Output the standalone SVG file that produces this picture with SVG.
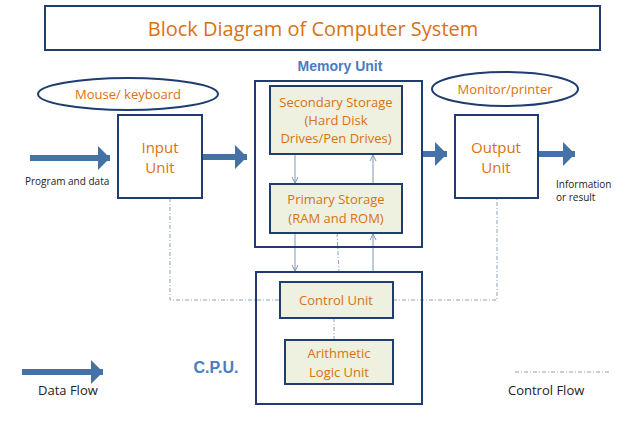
<svg xmlns="http://www.w3.org/2000/svg" width="640" height="428" viewBox="0 0 640 428">
<style>
.box{fill:#fff;stroke:#1f3d6e;stroke-width:2}
.inner{fill:#eef0e0;stroke:#1f3d6e;stroke-width:2}
.t{font-family:"Open Sans","Liberation Sans",sans-serif;fill:#d9720f;text-anchor:middle;font-size:13px}
.k{font-family:"Open Sans","Liberation Sans",sans-serif;fill:#222;font-size:10px}
.blue{font-family:"Liberation Sans",sans-serif;fill:#4a7cc0;font-weight:bold;text-anchor:middle}
.thin{stroke:#7f98bb;stroke-width:1;fill:none}
.dash{stroke:#8fa3bd;stroke-width:1;fill:none;stroke-dasharray:4 2 1 2}
.fat{stroke:#4472a8;stroke-width:6;fill:none}
</style>
<defs>
<marker id="big" markerWidth="4" markerHeight="4" refX="2" refY="2" orient="auto" markerUnits="strokeWidth"><path d="M0,0 L2,2 L0,4 Z" fill="#4472a8"/><path d="M0,0.5 L2,2 L0,3.5" fill="#4472a8"/></marker>
<marker id="sm" markerWidth="8" markerHeight="8" refX="7" refY="4" orient="auto" markerUnits="userSpaceOnUse"><path d="M1,1 L7,4 L1,7" fill="none" stroke="#7f98bb"/></marker>
</defs>
<rect width="640" height="428" fill="#fff"/>
<g id="title"><rect x="45" y="6" width="555" height="44" class="box"/><text x="313" y="36" class="t" style="font-size:20px">Block Diagram of Computer System</text></g>
<g id="connectors">
<line x1="30" y1="158" x2="110" y2="158" class="fat" marker-end="url(#big)"/>
<line x1="202" y1="157" x2="247" y2="157" class="fat" marker-end="url(#big)"/>
<line x1="422" y1="154" x2="447" y2="154" class="fat" marker-end="url(#big)"/>
<line x1="538" y1="154" x2="575" y2="154" class="fat" marker-end="url(#big)"/>
<line x1="295" y1="154" x2="295" y2="183" class="thin" marker-end="url(#sm)"/>
<line x1="373" y1="184" x2="373" y2="155" class="thin" marker-end="url(#sm)"/>
<line x1="295" y1="233" x2="295" y2="271" class="thin" marker-end="url(#sm)"/>
<line x1="373" y1="272" x2="373" y2="234" class="thin" marker-end="url(#sm)"/>
<line x1="337" y1="233" x2="339" y2="272" class="dash"/>
<line x1="334" y1="318" x2="334" y2="340" class="dash"/>
<polyline points="170,198 170,300 280,300" class="dash"/>
<polyline points="393,300 497,300 497,198" class="dash"/>
</g>
<g id="mouse"><ellipse cx="128" cy="94" rx="90" ry="16" fill="#fff" stroke="#1f3d6e" stroke-width="2"/><text x="128" y="99" class="t">Mouse/ keyboard</text></g>
<g id="monitor"><ellipse cx="505" cy="89" rx="73" ry="17" fill="#fff" stroke="#1f3d6e" stroke-width="2"/><text x="505" y="94" class="t">Monitor/printer</text></g>
<g id="input"><rect x="118" y="115" width="84" height="83" class="box"/><text x="160" y="153" class="t" style="font-size:15px">Input</text><text x="160" y="173" class="t" style="font-size:15px">Unit</text></g>
<g id="output"><rect x="455" y="115" width="83" height="83" class="box"/><text x="496" y="153" class="t" style="font-size:15px">Output</text><text x="496" y="173" class="t" style="font-size:15px">Unit</text></g>
<g id="memory"><text x="340" y="71" class="blue" style="font-size:14px">Memory Unit</text><rect x="255" y="81" width="167" height="166" class="box" fill="none" style="fill:none"/></g>
<g id="secondary"><rect x="270" y="86" width="132" height="68" class="inner"/><text x="336" y="107" class="t">Secondary Storage</text><text x="336" y="125" class="t">(Hard Disk</text><text x="336" y="143" class="t">Drives/Pen Drives)</text></g>
<g id="primary"><rect x="270" y="184" width="132" height="49" class="inner"/><text x="336" y="204" class="t">Primary Storage</text><text x="336" y="223" class="t">(RAM and ROM)</text></g>
<g id="cpu"><rect x="256" y="272" width="166" height="132" class="box" style="fill:none"/><text x="216" y="373" class="blue" style="font-size:16px">C.P.U.</text></g>
<g id="control"><rect x="280" y="282" width="113" height="36" class="inner"/><text x="336" y="305" class="t">Control Unit</text></g>
<g id="alu"><rect x="285" y="340" width="108" height="44" class="inner"/><text x="339" y="358" class="t">Arithmetic</text><text x="339" y="377" class="t">Logic Unit</text></g>
<g id="labels">
<text x="25" y="185" class="k">Program and data</text>
<text x="556" y="188" class="k">Information</text>
<text x="556" y="201" class="k">or result</text>
<line x1="22" y1="372" x2="103" y2="372" class="fat" marker-end="url(#big)"/>
<text x="38" y="395" class="k" style="font-size:13px">Data Flow</text>
<line x1="515" y1="372" x2="610" y2="372" class="dash"/>
<text x="508" y="395" class="k" style="font-size:13px">Control Flow</text>
</g>
</svg>
